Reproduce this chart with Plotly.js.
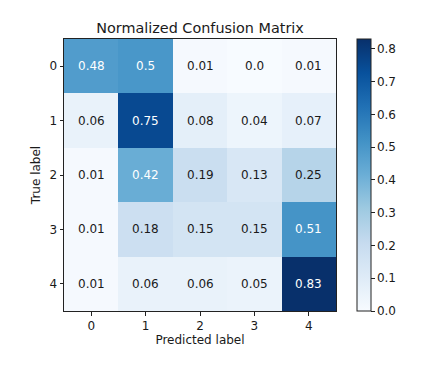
<!DOCTYPE html>
<html>
<head>
<meta charset="utf-8">
<script src="https://cdn.plot.ly/plotly-3.0.1.min.js"></script>
<style>html,body{margin:0;padding:0;background:#fff;}#chart{width:430px;height:368px;}</style>
</head>
<body>
<div id="chart"></div>
<script>
const predictedLabels = [0, 1, 2, 3, 4];
const trueLabels = [0, 1, 2, 3, 4];
const tickText = ["0", "1", "2", "3", "4"];
const row0 = [0.48, 0.5, 0.01, 0.0, 0.01];
const row1 = [0.06, 0.75, 0.08, 0.04, 0.07];
const row2 = [0.01, 0.42, 0.19, 0.13, 0.25];
const row3 = [0.01, 0.18, 0.15, 0.15, 0.51];
const row4 = [0.01, 0.06, 0.06, 0.05, 0.83];
const cellText = [
  ["0.48", "0.5", "0.01", "0.0", "0.01"],
  ["0.06", "0.75", "0.08", "0.04", "0.07"],
  ["0.01", "0.42", "0.19", "0.13", "0.25"],
  ["0.01", "0.18", "0.15", "0.15", "0.51"],
  ["0.01", "0.06", "0.06", "0.05", "0.83"]
];
const colorbarTicks = [0, 0.1, 0.2, 0.3, 0.4, 0.5, 0.6, 0.7, 0.8];
const colorbarTickText = ['0.0', '0.1', '0.2', '0.3', '0.4', '0.5', '0.6', '0.7', '0.8'];
const z = [row0, row1, row2, row3, row4];

const blues = [
  [0.0, '#f7fbff'], [0.125, '#deebf7'], [0.25, '#c6dbef'], [0.375, '#9ecae1'],
  [0.5, '#6baed6'], [0.625, '#4292c6'], [0.75, '#2171b5'], [0.875, '#08519c'], [1.0, '#08306b']
];
const zmax = Math.max(...z.flat());
const thresh = zmax / 2;

const annotations = [];
z.forEach((row, i) => row.forEach((v, j) => {
  annotations.push({
    x: predictedLabels[j], y: trueLabels[i], xref: 'x', yref: 'y',
    text: cellText[i][j], showarrow: false,
    font: {family: 'DejaVu Sans', size: 12, color: v > thresh ? '#ffffff' : '#1a1a1a'}
  });
}));

const font = {family: 'DejaVu Sans', size: 12, color: '#1a1a1a'};

Plotly.newPlot('chart', [{
  type: 'heatmap', x: predictedLabels, y: trueLabels, z: z,
  colorscale: blues, zmin: 0, zmax: zmax, hoverinfo: 'none',
  colorbar: {
    x: (357 - 64) / 272, xanchor: 'left', xpad: 0, ypad: 0,
    y: 0.5, yanchor: 'middle', len: 1, lenmode: 'fraction',
    thickness: 14, thicknessmode: 'pixels',
    outlinewidth: 1, outlinecolor: '#222',
    ticks: 'outside', ticklen: 3.5, tickwidth: 1, tickcolor: '#222',
    tickvals: colorbarTicks, ticktext: colorbarTickText,
    tickfont: font
  }
}], {
  width: 430, height: 368,
  margin: {l: 64, r: 94, t: 39, b: 57},
  paper_bgcolor: '#fff', plot_bgcolor: '#fff',
  font: font,
  title: {
    text: 'Normalized Confusion Matrix',
    font: {family: 'DejaVu Sans', size: 14.4, color: '#1a1a1a'},
    x: 0.5, xref: 'paper', xanchor: 'center',
    y: 1, yref: 'paper', yanchor: 'bottom', pad: {b: 6}
  },
  xaxis: {
    range: [-0.5, 4.5], tickvals: predictedLabels, ticktext: tickText,
    ticks: 'outside', ticklen: 3.5, tickwidth: 1, tickcolor: '#222',
    showline: true, mirror: true, linecolor: '#222', linewidth: 1,
    showgrid: false, zeroline: false, tickfont: font,
    title: {text: 'Predicted label', font: font, standoff: 3}
  },
  yaxis: {
    range: [4.5, -0.5], tickvals: trueLabels, ticktext: tickText,
    ticks: 'outside', ticklen: 3.5, tickwidth: 1, tickcolor: '#222',
    showline: true, mirror: true, linecolor: '#222', linewidth: 1,
    showgrid: false, zeroline: false, tickfont: font,
    title: {text: 'True label', font: font, standoff: 6}
  },
  annotations: annotations,
  showlegend: false
}, {displayModeBar: false, staticPlot: true});
</script>
</body>
</html>
